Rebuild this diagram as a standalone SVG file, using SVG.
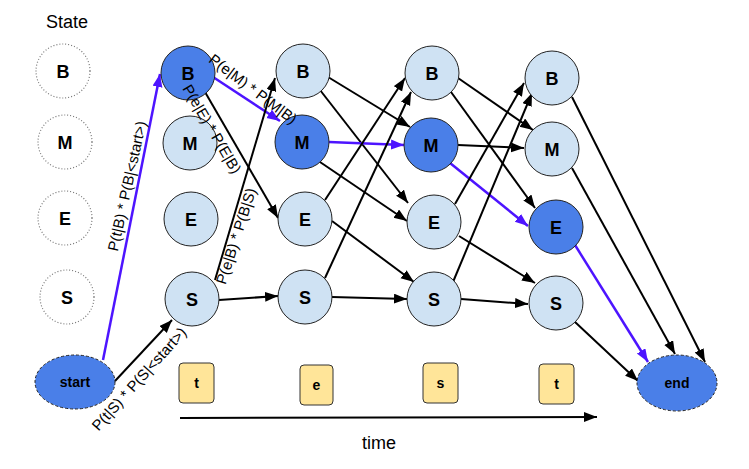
<svg xmlns="http://www.w3.org/2000/svg" width="749" height="469" viewBox="0 0 749 469">
<defs>
<marker id="ab" markerUnits="userSpaceOnUse" markerWidth="14" markerHeight="11" refX="13" refY="5" orient="auto"><path d="M0,0 L13,5 L0,10 z" fill="#000"/></marker>
<marker id="ap" markerUnits="userSpaceOnUse" markerWidth="14" markerHeight="11" refX="13" refY="5" orient="auto"><path d="M0,0 L13,5 L0,10 z" fill="#4d14ff"/></marker>
</defs>
<style>
text{font-family:"Liberation Sans",Arial,sans-serif;}
.ref{fill:#fff;stroke:#777;stroke-width:1.2;stroke-dasharray:1 2;}
.lt{fill:#cfe2f3;stroke:#222;stroke-width:1;}
.dk{fill:#4a7fe8;stroke:#222;stroke-width:1;}
.term{fill:#4a7fe8;stroke:#222;stroke-width:1;stroke-dasharray:3 2;}
.box{fill:#ffe599;stroke:#333;stroke-width:1;}
.nl{font-size:18px;font-weight:bold;fill:#000;text-anchor:middle;}
.tl{font-size:14px;font-weight:bold;fill:#000;text-anchor:middle;}
.bl{font-size:14px;font-weight:bold;fill:#000;text-anchor:middle;}
.lab{font-size:15px;fill:#000;text-anchor:middle;}
.big{font-size:18px;fill:#000;text-anchor:middle;}
.cb{stroke:#000;stroke-width:2;fill:none;marker-end:url(#ab);}
.cp{stroke:#4d14ff;stroke-width:2.5;fill:none;marker-end:url(#ap);}
</style>
<rect width="749" height="469" fill="#fff"/>
<text class="big" x="67" y="28">State</text>
<g id="ref-B"><circle class="ref" cx="63" cy="71" r="27"/><text class="nl" x="63" y="77.5">B</text></g>
<g id="ref-M"><circle class="ref" cx="65" cy="142" r="27"/><text class="nl" x="65" y="148.5">M</text></g>
<g id="ref-E"><circle class="ref" cx="65" cy="218" r="27"/><text class="nl" x="65" y="224.5">E</text></g>
<g id="ref-S"><circle class="ref" cx="67" cy="297" r="27"/><text class="nl" x="67" y="303.5">S</text></g>

<g id="connectors">
<line class="cp" x1="103" y1="360" x2="160" y2="74"/>
<line class="cb" x1="115" y1="381" x2="172" y2="320"/>
<line class="cp" x1="213" y1="77" x2="280" y2="121"/>
<line class="cb" x1="205" y1="92" x2="278" y2="218"/>
<line class="cb" x1="215" y1="280" x2="275" y2="78"/>
<line class="cb" x1="219" y1="300" x2="278" y2="296"/>
<line class="cb" x1="328" y1="77" x2="410" y2="127"/>
<line class="cb" x1="320" y1="90" x2="408" y2="203"/>
<line class="cp" x1="329" y1="142" x2="404" y2="145"/>
<line class="cb" x1="320" y1="162" x2="407" y2="221"/>
<line class="cb" x1="325" y1="200" x2="405" y2="78"/>
<line class="cb" x1="332" y1="221" x2="414" y2="282"/>
<line class="cb" x1="325" y1="278" x2="411" y2="92"/>
<line class="cb" x1="332" y1="297" x2="407" y2="299"/>
<line class="cb" x1="458" y1="78" x2="533" y2="130"/>
<line class="cb" x1="451" y1="92" x2="535" y2="208"/>
<line class="cb" x1="458" y1="145" x2="524" y2="148"/>
<line class="cp" x1="450" y1="163" x2="528" y2="226"/>
<line class="cb" x1="455" y1="204" x2="524" y2="83"/>
<line class="cb" x1="459" y1="236" x2="535" y2="283"/>
<line class="cb" x1="453" y1="282" x2="532" y2="93"/>
<line class="cb" x1="461" y1="299" x2="528" y2="304"/>
<line class="cb" x1="572" y1="97" x2="705" y2="362"/>
<line class="cb" x1="572" y1="168" x2="675" y2="354"/>
<line class="cp" x1="575" y1="245" x2="648" y2="362"/>
<line class="cb" x1="575" y1="322" x2="638" y2="381"/>
<line class="cb" x1="180" y1="418" x2="597" y2="417"/>
</g>

<g id="B1"><circle class="dk" cx="188" cy="73" r="27"/><text class="nl" x="188" y="79.5">B</text></g>
<g id="M1"><circle class="lt" cx="190" cy="143" r="27"/><text class="nl" x="190" y="149.5">M</text></g>
<g id="E1"><circle class="lt" cx="191" cy="219" r="27"/><text class="nl" x="191" y="225.5">E</text></g>
<g id="S1"><circle class="lt" cx="192" cy="299" r="27"/><text class="nl" x="192" y="305.5">S</text></g>

<g id="B2"><circle class="lt" cx="303" cy="71" r="27"/><text class="nl" x="303" y="77.5">B</text></g>
<g id="M2"><circle class="dk" cx="302" cy="142" r="27"/><text class="nl" x="302" y="148.5">M</text></g>
<g id="E2"><circle class="lt" cx="305" cy="219" r="27"/><text class="nl" x="305" y="225.5">E</text></g>
<g id="S2"><circle class="lt" cx="305" cy="297" r="27"/><text class="nl" x="305" y="303.5">S</text></g>

<g id="B3"><circle class="lt" cx="432" cy="73" r="27"/><text class="nl" x="432" y="79.5">B</text></g>
<g id="M3"><circle class="dk" cx="431" cy="145" r="27"/><text class="nl" x="431" y="151.5">M</text></g>
<g id="E3"><circle class="lt" cx="434" cy="222" r="27"/><text class="nl" x="434" y="228.5">E</text></g>
<g id="S3"><circle class="lt" cx="434" cy="299" r="27"/><text class="nl" x="434" y="305.5">S</text></g>

<g id="B4"><circle class="lt" cx="552" cy="78" r="27"/><text class="nl" x="552" y="84.5">B</text></g>
<g id="M4"><circle class="lt" cx="552" cy="149" r="27"/><text class="nl" x="552" y="155.5">M</text></g>
<g id="E4"><circle class="dk" cx="556" cy="227" r="27"/><text class="nl" x="556" y="233.5">E</text></g>
<g id="S4"><circle class="lt" cx="556" cy="303" r="27"/><text class="nl" x="556" y="309.5">S</text></g>

<g id="start"><ellipse class="term" cx="75" cy="382" rx="40" ry="27"/><text class="tl" x="75" y="387">start</text></g>
<g id="end"><ellipse class="term" cx="677" cy="383" rx="40" ry="28"/><text class="tl" x="677" y="388">end</text></g>

<g id="obs-t1"><rect class="box" x="179" y="363" width="35" height="40" rx="4"/><text class="bl" x="196.5" y="388">t</text></g>
<g id="obs-e"><rect class="box" x="300" y="365" width="33" height="40" rx="4"/><text class="bl" x="316.5" y="390">e</text></g>
<g id="obs-s"><rect class="box" x="423" y="363" width="35" height="40" rx="4"/><text class="bl" x="440.5" y="388">s</text></g>
<g id="obs-t2"><rect class="box" x="539" y="364" width="35" height="40" rx="4"/><text class="bl" x="556.5" y="389">t</text></g>

<g id="connector-labels">
<text class="lab" transform="translate(127,186) rotate(-77.5)" dy="0.35em">P(t|B) * P(B|&lt;start&gt;)</text>
<text class="lab" transform="translate(139,379) rotate(-48)" dy="0.35em">P(t|S) * P(S|&lt;start&gt;)</text>
<text class="lab" transform="translate(253,89) rotate(37)" dy="0.35em">P(e|M) * P(M|B)</text>
<text class="lab" transform="translate(212,129) rotate(59.5)" dy="0.35em">P(e|E) * P(E|B)</text>
<text class="lab" transform="translate(236,236) rotate(-72)" dy="0.35em">P(e|B) * P(B|S)</text>
</g>
<text class="big" x="379" y="449">time</text>
</svg>
